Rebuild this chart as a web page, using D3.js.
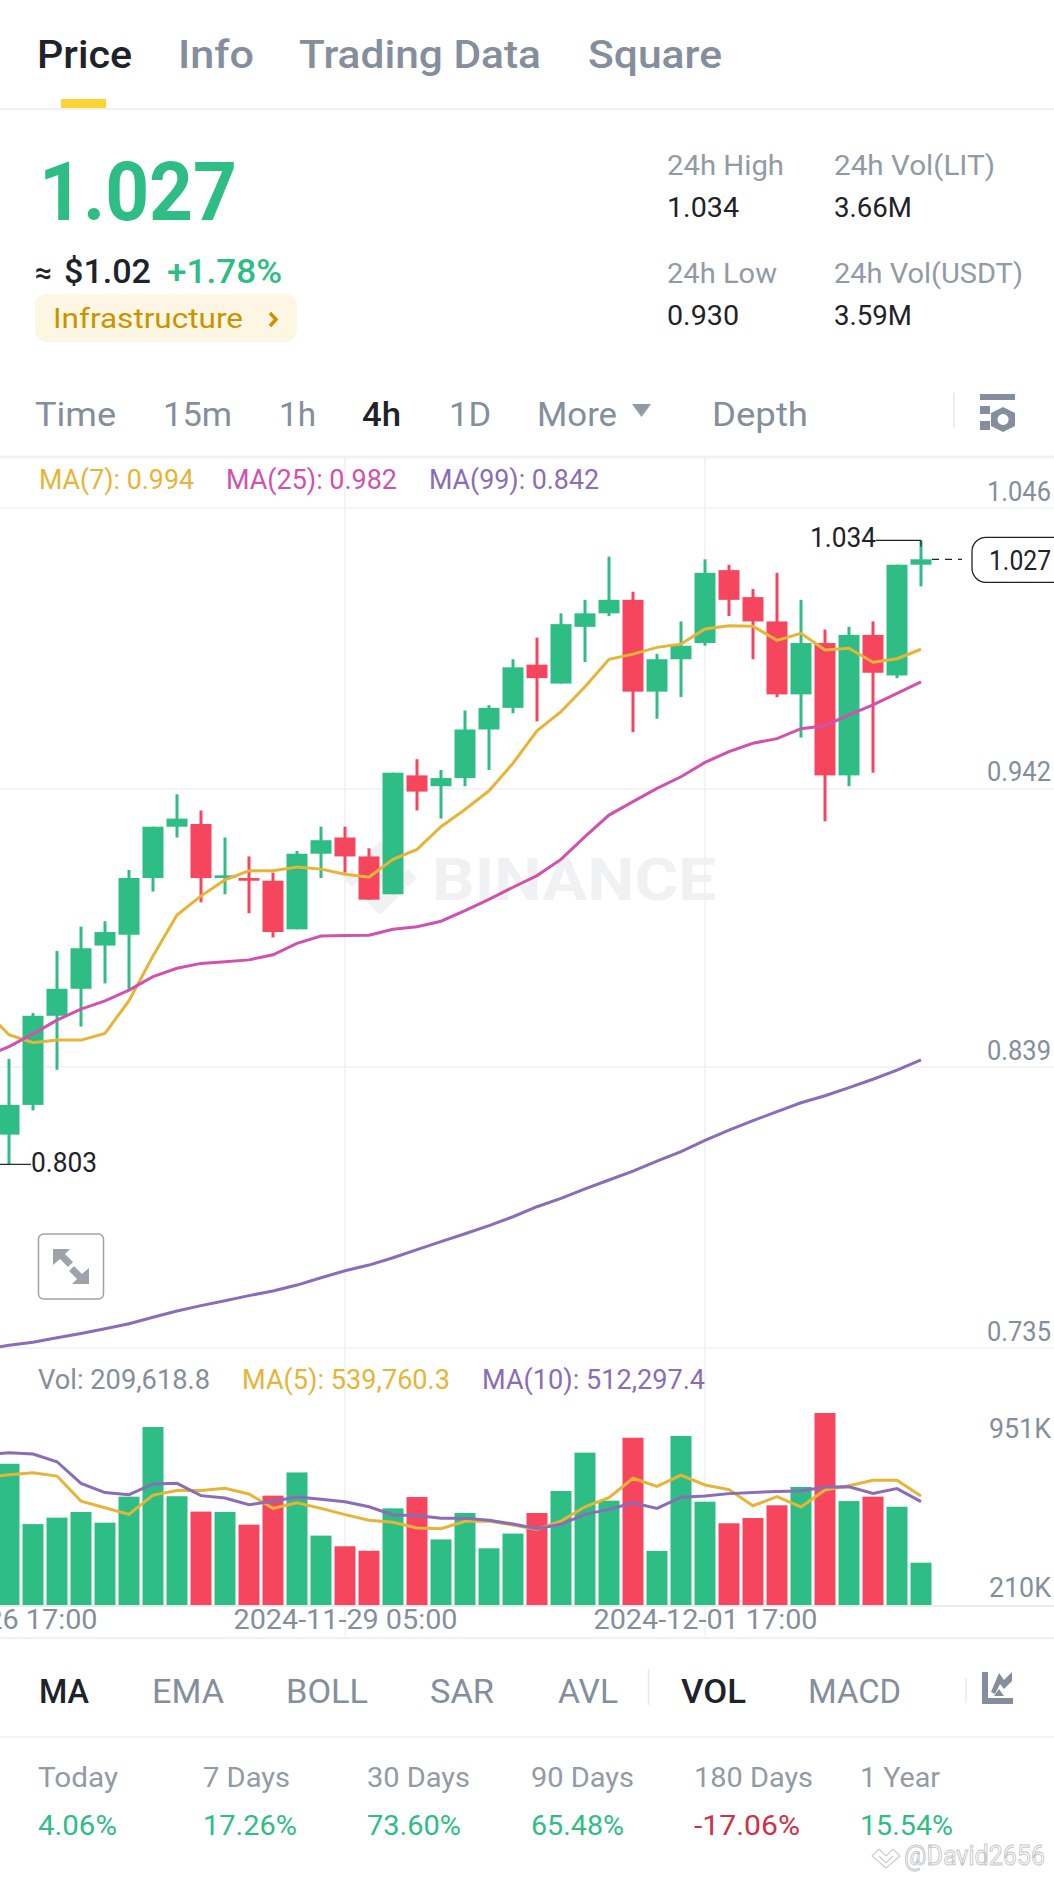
<!DOCTYPE html>
<html>
<head>
<meta charset="utf-8">
<script src="https://cdn.jsdelivr.net/npm/d3@7"></script>
<style>
  html, body { margin: 0; padding: 0; background: #fff; overflow: hidden; }
  svg { display: block; font-family: Roboto, sans-serif; }
</style>
</head>
<body>
<svg id="chart" width="1054" height="1877"></svg>
<script>
// 4h candles, the first one sits just off the left edge
const times = [
  "2024-11-26 17:00", "2024-11-26 21:00",
  "2024-11-27 01:00", "2024-11-27 05:00", "2024-11-27 09:00", "2024-11-27 13:00", "2024-11-27 17:00", "2024-11-27 21:00",
  "2024-11-28 01:00", "2024-11-28 05:00", "2024-11-28 09:00", "2024-11-28 13:00", "2024-11-28 17:00", "2024-11-28 21:00",
  "2024-11-29 01:00", "2024-11-29 05:00", "2024-11-29 09:00", "2024-11-29 13:00", "2024-11-29 17:00", "2024-11-29 21:00",
  "2024-11-30 01:00", "2024-11-30 05:00", "2024-11-30 09:00", "2024-11-30 13:00", "2024-11-30 17:00", "2024-11-30 21:00",
  "2024-12-01 01:00", "2024-12-01 05:00", "2024-12-01 09:00", "2024-12-01 13:00", "2024-12-01 17:00", "2024-12-01 21:00",
  "2024-12-02 01:00", "2024-12-02 05:00", "2024-12-02 09:00", "2024-12-02 13:00", "2024-12-02 17:00", "2024-12-02 21:00",
  "2024-12-03 01:00", "2024-12-03 05:00"
];
const opens = [
  .822, .814, .825, .858, .868, .884, .888, .909, .928, .929, .909, .909, .908, .890, .918, .924, .917, .903, .947, .943,
  .946, .964, .972, .988, .981, 1.002, 1.007, 1.012, .978, .990, .996, 1.023, 1.013, 1.004, .977, .996, .947, .999, .984, 1.025
];
const closes = [
  .814, .825, .858, .868, .883, .889, .909, .928, .931, .909, .910, .908, .889, .918, .923, .917, .901, .948, .941, .946,
  .964, .972, .987, .983, 1.003, 1.007, 1.012, .978, .990, .995, 1.022, 1.012, 1.004, .977, .996, .947, .999, .985, 1.025, 1.027
];
const highs = [
  .830, .842, .859, .882, .891, .893, .912, .928, .940, .934, .924, .917, .911, .919, .928, .928, .920, .948, .953, .949,
  .971, .973, .990, .998, 1.007, 1.012, 1.028, 1.015, .992, 1.004, 1.027, 1.025, 1.016, 1.022, 1.012, 1.001, 1.002, 1.004, 1.025, 1.034
];
const lows = [
  .810, .803, .823, .838, .854, .870, .868, .904, .924, .900, .903, .896, .887, .890, .909, .911, .901, .903, .934, .931,
  .943, .949, .970, .967, .981, .989, 1.006, .963, .968, .976, .995, 1.006, .990, .976, .961, .930, .943, .948, .983, 1.017
];
const ma7 = [
  .8600, .8510, .8480, .8490, .8490, .8515, .8636, .8801, .8953, .9024, .9083, .9117, .9117, .9131, .9123, .9104, .9093, .9159, .9196, .9280,
  .9344, .9413, .9515, .9635, .9706, .9798, .9900, .9919, .9944, .9956, 1.0012, 1.0024, 1.0022, .9970, .9996, .9934, .9941, .9889, .9902, .9937
];
const ma25 = [
  .8429, .8466, .8513, .8564, .8605, .8635, .8675, .8725, .8756, .8774, .8780, .8787, .8806, .8848, .8875, .8877, .8878, .8900, .8910, .8930,
  .8969, .9011, .9056, .9099, .9159, .9243, .9323, .9373, .9422, .9465, .9518, .9558, .9589, .9606, .9643, .9654, .9694, .9731, .9774, .9816
];
const ma99 = [
  .7346, .7360, .7371, .7388, .7404, .7421, .7440, .7464, .7487, .7507, .7525, .7544, .7561, .7583, .7610, .7636, .7657, .7684, .7714, .7744,
  .7773, .7803, .7836, .7873, .7904, .7939, .7972, .8005, .8042, .8077, .8119, .8157, .8192, .8225, .8258, .8284, .8314, .8345, .8379, .8417
];
// volumes in thousands
const volumes = [
  500, 700, 401, 433, 461, 408, 537, 882, 539, 463, 461, 398, 542, 657, 344, 291, 269, 479, 535, 325,
  456, 281, 354, 456, 565, 755, 517, 829, 268, 838, 512, 405, 431, 494, 585, 951.6, 515, 537, 487, 209.6
];
const volMa5 = [
  633, 646, 656, 639, 515, 482, 449, 545, 567, 568, 578, 550, 479, 506, 479, 448, 420, 410, 382, 378,
  415, 416, 396, 375, 416, 487, 532, 628, 588, 644, 595, 572, 492, 537, 486, 570, 591, 618, 618, 539.8
];
const volMa10 = [
  743, 755, 748, 710, 603, 557, 547, 600, 603, 542, 530, 497, 514, 535, 524, 512, 487, 446, 443, 430,
  430, 420, 401, 378, 400, 449, 474, 507, 479, 534, 540, 552, 558, 562, 565, 585, 586, 553, 577, 512.3
];

const priceTicks = [1.046, 0.942, 0.839, 0.735];
const volumeTicks = [951, 210];
const dateTicks = ["2024-11-26 17:00", "2024-11-29 05:00", "2024-12-01 17:00"];

const tabs = ["Price", "Info", "Trading Data", "Square"];
const intervals = ["Time", "15m", "1h", "4h", "1D", "More", "Depth"];
const indicators = ["MA", "EMA", "BOLL", "SAR", "AVL", "VOL", "MACD"];
const periods = ["Today", "7 Days", "30 Days", "90 Days", "180 Days", "1 Year"];
const periodChanges = ["4.06%", "17.26%", "73.60%", "65.48%", "-17.06%", "15.54%"];

const GREEN = "#2ebd85", RED = "#f6465d", INK = "#1e2329", GRAY = "#848e9c", RULE = "#eef0f2";
const YELLOW = "#e6b537", PINK = "#d052ae", PURPLE = "#8a6cb7";

const svg = d3.select("#chart");

// width squeezes or stretches the text to the run it has in the screenshot
function label(x, y, str, size, fill, width, weight = 400) {
  const t = svg.append("text")
    .attr("x", x).attr("y", y)
    .attr("font-size", size).attr("font-weight", weight)
    .attr("fill", fill)
    .text(str);
  if (width) t.attr("textLength", width).attr("lengthAdjust", "spacingAndGlyphs");
  return t;
}
function rule(x1, y1, x2, y2, stroke = RULE, w = 1.5) {
  return svg.append("line")
    .attr("x1", x1).attr("y1", y1).attr("x2", x2).attr("y2", y2)
    .attr("stroke", stroke).attr("stroke-width", w);
}

// ---- header ----
[[37, 95], [178, 76], [299, 242], [588, 134]].forEach(([px, w], i) =>
  label(px, 68, tabs[i], 38, i === 0 ? INK : GRAY, w, 500));
svg.append("rect").attr("x", 61).attr("y", 99).attr("width", 45).attr("height", 9).attr("fill", "#fcd535");
rule(0, 109, 1054, 109, "#eef0f2", 2);

label(39, 220, "1.027", 82, GREEN, 198, 700);
label(35, 283, "≈", 30, INK, null, 500);
label(64, 283, "$1.02", 34, INK, 87, 500);
label(167, 283, "+1.78%", 34, GREEN, 115, 500);
svg.append("rect").attr("x", 35).attr("y", 294).attr("width", 262).attr("height", 48).attr("rx", 12).attr("fill", "#fdf6e3");
label(53, 328, "Infrastructure", 28, "#c99400", 190);
svg.append("path").attr("d", "M270 313l6 6.5l-6 6.5").attr("fill", "none").attr("stroke", "#c99400").attr("stroke-width", 3.5);

[["24h High", "1.034", 667, 175, 117], ["24h Vol(LIT)", "3.66M", 834, 175, 161],
 ["24h Low", "0.930", 667, 283, 110], ["24h Vol(USDT)", "3.59M", 834, 283, 189]].forEach(([k, v, px, py, w]) => {
  label(px, py, k, 28, "#929aa5", w);
  label(px, py + 42, v, 28, INK, px === 667 ? 72 : 78);
});

[[35, 81], [163, 69], [279, 37], [362, 39], [449, 42], [537, 80], [712, 96]].forEach(([px, w], i) =>
  label(px, 426, intervals[i], 34, i === 3 ? INK : GRAY, w, i === 3 ? 500 : 400));
svg.append("path").attr("d", "M632 404h19l-9.500 13z").attr("fill", "#929aa5");
rule(954, 393, 954, 428, "#e6e8ea", 1.5);
svg.append("path").attr("fill", "#848e9c").attr("fill-rule", "evenodd")
  .attr("d", "M980 394h35v6h-35zM980 406h10v8h-10zM980 421h10v9h-10zM1003 407l12 6v13l-12 6l-12-6v-13zM1003 414a5.500 5.500 0 1 0 0.100 0z");
rule(0, 457, 1054, 457, "#f0f1f3", 3);

// ---- scales ----
const x = d3.scalePoint().domain(times).range([-15, 921]);
const y = d3.scaleLinear().domain([0.735, 1.046]).range([1348, 508]);
const yVol = d3.scaleLinear().domain([0, 951.6]).range([1605, 1413]);

const candles = times.map((t, i) => ({
  t, open: opens[i], close: closes[i], high: highs[i], low: lows[i], vol: volumes[i]
}));
const tone = d => (d.close >= d.open ? GREEN : RED);

// ---- grid ----
svg.append("g").selectAll("line").data(priceTicks).join("line")
  .attr("x1", 0).attr("x2", 1054)
  .attr("y1", d => y(d)).attr("y2", d => y(d))
  .attr("stroke", RULE).attr("stroke-width", 1.5);
svg.append("g").selectAll("line").data(dateTicks.slice(1)).join("line")
  .attr("x1", d => x(d)).attr("x2", d => x(d))
  .attr("y1", 458).attr("y2", 1636)
  .attr("stroke", RULE).attr("stroke-width", 1.5);
rule(0, 1606, 1054, 1606, "#e9ebee", 2);

// ---- watermark ----
svg.append("path").attr("fill", "#f0f1f2")
  .attr("d", "M380 841l20 20l-8.500 8.500l-11.500-11.500l-11.500 11.500l-8.500-8.500zM380 915l20-20l-8.500-8.500l-11.500 11.500l-11.500-11.500l-8.500 8.500zM380 868l10 10l-10 10l-10-10zM343 878l9-9l9 9l-9 9zM399 878l9-9l9 9l-9 9z");
label(432, 900, "BINANCE", 59, "#f0f1f2", 284, 700);

// ---- price panel ----
const candleG = svg.append("g");
candleG.selectAll("line").data(candles).join("line")
  .attr("x1", d => x(d.t)).attr("x2", d => x(d.t))
  .attr("y1", d => y(d.high)).attr("y2", d => y(d.low))
  .attr("stroke", tone).attr("stroke-width", 3);
candleG.selectAll("rect").data(candles).join("rect")
  .attr("x", d => x(d.t) - 10.5).attr("width", 21)
  .attr("y", d => y(Math.max(d.open, d.close)))
  .attr("height", d => Math.abs(y(d.open) - y(d.close)))
  .attr("fill", tone);

const priceLine = d3.line().x((d, i) => x(times[i])).y(d => y(d));
[[ma7, YELLOW], [ma25, PINK], [ma99, PURPLE]].forEach(([series, color]) => {
  svg.append("path").datum(series)
    .attr("d", priceLine)
    .attr("fill", "none").attr("stroke", color).attr("stroke-width", 3);
});

label(39, 489, "MA(7): 0.994", 28, YELLOW, 155);
label(226, 489, "MA(25): 0.982", 28, PINK, 171);
label(429, 489, "MA(99): 0.842", 28, PURPLE, 170);

const priceAxis = d3.axisRight(y).tickValues(priceTicks).tickSize(0).tickPadding(0).tickFormat(d3.format(".3f"));
svg.append("g").attr("transform", "translate(987,0)").call(priceAxis)
  .call(g => g.select(".domain").remove())
  .call(g => g.selectAll("text")
    .attr("dy", -8).attr("font-size", 28).attr("font-family", "Roboto, sans-serif").attr("fill", GRAY)
    .attr("textLength", 64).attr("lengthAdjust", "spacingAndGlyphs"));

// high / low / last price tags
const lastIndex = times.length - 1;
const lowPrice = d3.min(lows), highPrice = d3.max(highs), lastPrice = closes[lastIndex];
const highX = x(times[highs.indexOf(highPrice)]);
rule(876, y(highPrice), highX, y(highPrice), INK, 1.2);
rule(highX, y(highPrice), highX, y(highPrice) + 6, INK, 1.2);
label(810, y(highPrice) + 7, highPrice.toFixed(3), 28, INK, 66);
rule(0, y(lowPrice), 31, y(lowPrice), INK, 1.2);
label(31, y(lowPrice) + 8, lowPrice.toFixed(3), 28, INK, 66);
rule(932, y(lastPrice), 962, y(lastPrice), INK, 1.2).attr("stroke-dasharray", "7 6");
svg.append("rect").attr("x", 972).attr("y", y(lastPrice) - 22).attr("width", 100).attr("height", 45)
  .attr("rx", 14).attr("fill", "#fff").attr("stroke", INK).attr("stroke-width", 1.3);
label(989, y(lastPrice) + 11, lastPrice.toFixed(3), 28, INK, 62);

// expand button
svg.append("rect").attr("x", 38.500).attr("y", 1234).attr("width", 65).attr("height", 65)
  .attr("rx", 5).attr("fill", "#fff").attr("stroke", "#9ea3ab").attr("stroke-width", 1.5);
svg.append("path").attr("fill", "#9ea3ab")
  .attr("d", "M53 1249h17l-5 5l8 8l-5 5l-8-8l-7 6zM89 1284h-17l5-5l-8-8l5-5l8 8l7-6z");

// ---- volume panel ----
svg.append("g").selectAll("rect").data(candles).join("rect")
  .attr("x", d => x(d.t) - 10.5).attr("width", 21)
  .attr("y", d => yVol(d.vol))
  .attr("height", d => yVol(0) - yVol(d.vol))
  .attr("fill", tone);

const volLine = d3.line().x((d, i) => x(times[i])).y(d => yVol(d));
[[volMa5, YELLOW], [volMa10, PURPLE]].forEach(([series, color]) => {
  svg.append("path").datum(series)
    .attr("d", volLine)
    .attr("fill", "none").attr("stroke", color).attr("stroke-width", 3);
});

label(38, 1389, "Vol: 209,618.8", 27, GRAY, 172);
label(242, 1389, "MA(5): 539,760.3", 27, YELLOW, 208);
label(482, 1389, "MA(10): 512,297.4", 27, PURPLE, 223);

const volAxis = d3.axisRight(yVol).tickValues(volumeTicks).tickSize(0).tickPadding(0).tickFormat(d => d + "K");
svg.append("g").attr("transform", "translate(989,0)").call(volAxis)
  .call(g => g.select(".domain").remove())
  .call(g => g.selectAll("text")
    .attr("font-size", 28).attr("font-family", "Roboto, sans-serif").attr("fill", GRAY)
    .attr("y", d => (d === 951 ? 1437 : 1597) - yVol(d)).attr("dy", 0)
    .attr("textLength", 62).attr("lengthAdjust", "spacingAndGlyphs"));

const dateAxis = d3.axisBottom(x).tickValues(dateTicks).tickSize(0).tickPadding(0);
svg.append("g").attr("transform", "translate(0,1629)").call(dateAxis)
  .call(g => g.select(".domain").remove())
  .call(g => g.selectAll("text")
    .attr("y", 0).attr("dy", 0)
    .attr("font-size", 27).attr("font-family", "Roboto, sans-serif").attr("fill", GRAY)
    .attr("textLength", 224).attr("lengthAdjust", "spacingAndGlyphs"));
rule(0, 1638, 1054, 1638, "#f0f1f3", 2.5);

// ---- footer ----
[[39, 50], [152, 72], [286, 82], [430, 64], [558, 60], [681, 65], [808, 93]].forEach(([px, w], i) =>
  label(px, 1703, indicators[i], 34, i === 0 || i === 5 ? INK : GRAY, w, i === 0 || i === 5 ? 500 : 400));
rule(648.500, 1669, 648.500, 1705, "#e6e8ea", 1.5);
rule(966, 1678, 966, 1703, "#eef0f2", 2);
svg.append("path").attr("fill", "#848e9c")
  .attr("d", "M982 1672h6v26h25v6h-31zM991 1692l8-19l5 7l8-8v9l-8 8l-4-5l-5 10zM994 1696l5-7l5 7z");
rule(0, 1737, 1054, 1737, RULE, 1.5);

const periodX = [38, 203, 367, 531, 694, 860];
const periodW = [80, 87, 103, 103, 119, 80];
const changeW = [79, 94, 94, 93, 106, 93];
periodX.forEach((px, i) => {
  label(px, 1787, periods[i], 28, "#929aa5", periodW[i]);
  label(px, 1835, periodChanges[i], 28, periodChanges[i][0] === "-" ? "#cf304a" : GREEN, changeW[i]);
});

// author stamp in the corner
svg.append("path").attr("fill", "none").attr("stroke", "#c9cdd2").attr("stroke-width", 1.2)
  .attr("d", "M872 1856l7-7l7 7l7-7l7 7l-14 12zM879 1856l7 7l7-7");
label(904, 1865, "@David2656", 28, "#fff", 141)
  .attr("stroke", "#c4c8cd").attr("stroke-width", 1);
</script>
</body>
</html>
